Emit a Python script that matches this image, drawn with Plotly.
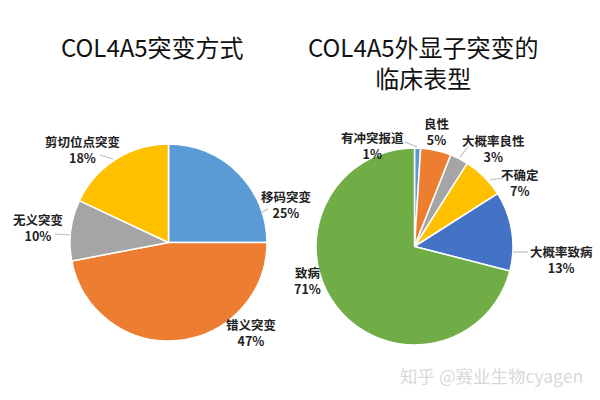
import plotly.graph_objects as go

W, H = 600, 400
FONT = "Noto Sans CJK SC"

# left pie
mut_labels = ["移码突变", "错义突变", "无义突变", "剪切位点突变"]
mut_values = [25, 47, 10, 18]
mut_colors = ["#5b9bd5", "#ed7d31", "#a5a5a5", "#ffc000"]

# right pie
exon_labels = ["有冲突报道", "良性", "大概率良性", "不确定", "大概率致病", "致病"]
exon_values = [1, 5, 3, 7, 13, 71]
exon_colors = ["#5b9bd5", "#ed7d31", "#a5a5a5", "#ffc000", "#4472c4", "#70ad47"]

# label block centres in pixels, same order as the values
mut_pos = [(286, 205), (251, 332), (38, 228), (83, 149)]
exon_pos = [(372, 145), (437, 131), (493, 148), (520, 182), (561, 259), (307, 280)]

leaders = [
    ((262, 212), (268, 209)),
    ((55, 234), (70, 235)),
    ((100, 155), (113, 159)),
    ((405, 142), (417, 147)),
    ((460, 157), (468, 147)),
    ((490, 180), (502, 178)),
    ((513, 252), (528, 252)),
]


def px(x, y):
    return x / W, 1 - y / H


def add_pie(fig, labels, values, colors, left, top, size):
    fig.add_trace(go.Pie(
        labels=labels, values=values, sort=False, direction="clockwise", rotation=0,
        marker=dict(colors=colors, line=dict(color="white", width=1.5)),
        textinfo="none", showlegend=False,
        domain=dict(x=[left / W, (left + size) / W], y=[1 - (top + size) / H, 1 - top / H]),
    ))


def add_text(fig, x, y, text, size, color="#222222"):
    px_x, px_y = px(x, y)
    fig.add_annotation(
        x=px_x, y=px_y, xref="paper", yref="paper", text=text,
        showarrow=False, xanchor="center", yanchor="middle",
        font=dict(family=FONT, size=size, color=color),
    )


fig = go.Figure()
add_pie(fig, mut_labels, mut_values, mut_colors, 70, 144, 197)
add_pie(fig, exon_labels, exon_values, exon_colors, 316, 148, 197)

for (x0, y0), (x1, y1) in leaders:
    a0, b0 = px(x0, y0)
    a1, b1 = px(x1, y1)
    fig.add_shape(type="line", xref="paper", yref="paper", x0=a0, y0=b0, x1=a1, y1=b1,
                  line=dict(color="#bfbfbf", width=1.2))

for labels, values, pos in [(mut_labels, mut_values, mut_pos), (exon_labels, exon_values, exon_pos)]:
    for lab, val, (x, y) in zip(labels, values, pos):
        add_text(fig, x, y, f"<b>{lab}<br>{val}%</b>", 12.5)

add_text(fig, 152, 47, "COL4A5突变方式", 24, color="#111111")
add_text(fig, 423, 62, "COL4A5外显子突变的<br>临床表型", 24, color="#111111")
add_text(fig, 492, 375, "知乎 @赛业生物cyagen", 17.5, color="#d9d9d9")

fig.update_layout(
    width=W, height=H, margin=dict(l=0, r=0, t=0, b=0),
    paper_bgcolor="white", plot_bgcolor="white",
)
# page has a default 8px body margin, drop it so the figure fills the window
fig.write_html("out.html", config=dict(displayModeBar=False),
               post_script="document.body.style.margin='0';document.body.style.overflow='hidden';")
